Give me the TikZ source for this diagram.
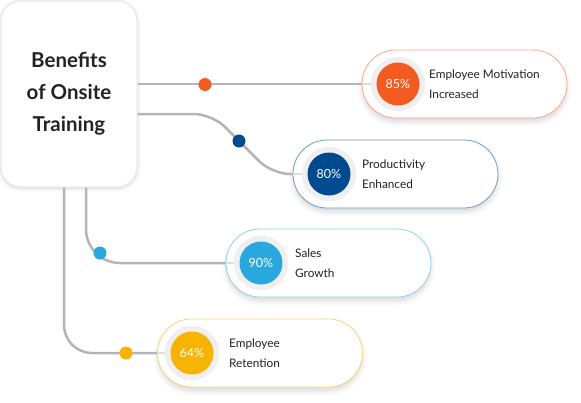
\documentclass[tikz,border=0pt]{standalone}
\usepackage{fontspec}
\setmainfont{Lato}
\usetikzlibrary{shadows.blur}
\definecolor{cOr}{HTML}{F45B21}
\definecolor{cOrL}{HTML}{F9A988}
\definecolor{cDb}{HTML}{004A8F}
\definecolor{cDbL}{HTML}{6F9BC8}
\definecolor{cLb}{HTML}{29A8E0}
\definecolor{cLbL}{HTML}{8FD0EE}
\definecolor{cYe}{HTML}{F6B400}
\definecolor{cYeL}{HTML}{F8D57A}
\definecolor{ringgray}{HTML}{EFEFEF}
\definecolor{linegray}{HTML}{B4B4B4}
\definecolor{linelight}{HTML}{DDDDDD}
\definecolor{boxgray}{HTML}{E8E8E8}
\definecolor{txt}{HTML}{222222}
\begin{document}
\begin{tikzpicture}[x=1pt,y=-1pt,
  mainbox/.style={draw=boxgray,line width=1pt,fill=white,rounded corners=20pt,
    minimum width=136pt,minimum height=186pt,inner sep=0pt,align=center,
    text=txt,font=\fontsize{20.5}{32}\selectfont\bfseries,
    blur shadow={shadow xshift=0pt,shadow yshift=-1pt,shadow blur radius=4pt,shadow opacity=18}},
  pill/.style={line width=0.8pt,fill=white,rounded corners=34pt,
    minimum width=205pt,minimum height=68pt,inner sep=0pt,
    blur shadow={shadow xshift=0pt,shadow yshift=-4pt,shadow blur radius=5pt,shadow opacity=15}},
  conn/.style={draw=linegray,line width=2.5pt,rounded corners=#1},
  conn/.default=0pt,
  connin/.style={draw=linelight,line width=2.5pt},
  ring/.style={circle,fill=ringgray,minimum size=54pt,inner sep=0pt},
  pct/.style={circle,minimum size=43pt,inner sep=0pt,text=white,font=\fontsize{12.5}{14}\selectfont},
  dotn/.style={circle,minimum size=13pt,inner sep=0pt},
  lbl/.style={anchor=west,align=left,inner sep=0pt,text=txt,font=\fontsize{11.8}{20}\selectfont}
]
\useasboundingbox (0,0) rectangle (581,402);

% pills
\node[pill,draw=cOrL] (p1) at (464.5,84) {};
\node[pill,draw=cDbL] (p2) at (395.5,174) {};
\node[pill,draw=cLbL] (p3) at (328.5,263) {};
\node[pill,draw=cYeL] (p4) at (260,353) {};

% main box
\node[mainbox] (main) at (69,94) {Benefits\\of Onsite\\Training};

% rings
\node[ring] (r1) at (398,84) {};
\node[ring] (r2) at (329,174) {};
\node[ring] (r3) at (261,263) {};
\node[ring] (r4) at (192,353) {};

% corner coordinates
\coordinate (c2a) at (212,114);
\coordinate (c2b) at (272,174);
\coordinate (c3a) at (86,263);
\coordinate (c4a) at (64,353);

% connectors
\draw[conn] (main.east |- p1) -- (p1.west);
\draw[connin] (p1.west) -- (r1);
\draw[conn=18pt] (main.east |- c2a) -- (c2a) -- (c2b) -- (p2.west);
\draw[connin] (p2.west) -- (r2);
\draw[conn=34pt] ([xshift=17pt]main.south) -- (c3a) -- (p3.west);
\draw[connin] (p3.west) -- (r3);
\draw[conn=28pt] ([xshift=-5pt]main.south) -- (c4a) -- (p4.west);
\draw[connin] (p4.west) -- (r4);

% rings again on top of inner line
\node[ring] at (r1) {};
\node[ring] at (r2) {};
\node[ring] at (r3) {};
\node[ring] at (r4) {};

% percentage circles
\node[pct,fill=cOr] (k1) at (r1) {85\%};
\node[pct,fill=cDb] (k2) at (r2) {80\%};
\node[pct,fill=cLb] (k3) at (r3) {90\%};
\node[pct,fill=cYe] (k4) at (r4) {64\%};

% labels
\node[lbl] (t1) at (429,84) {Employee Motivation\\Increased};
\node[lbl] (t2) at (362,174) {Productivity\\Enhanced};
\node[lbl] (t3) at (295,263) {Sales\\Growth};
\node[lbl] (t4) at (229,353) {Employee\\Retention};

% dots
\node[dotn,fill=cOr] (d1) at (205,84.5) {};
\node[dotn,fill=cDb] (d2) at (239,141) {};
\node[dotn,fill=cLb] (d3) at (100,253) {};
\node[dotn,fill=cYe] (d4) at (126,353) {};
\end{tikzpicture}
\end{document}
